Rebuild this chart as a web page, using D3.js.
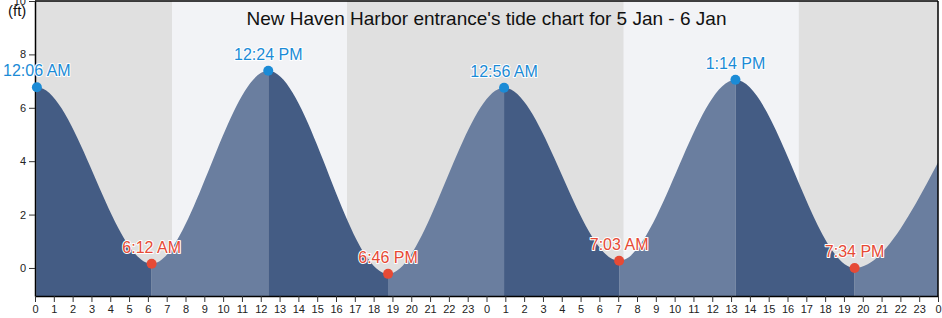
<!DOCTYPE html>
<html>
<head>
<meta charset="utf-8">
<script src="https://cdn.jsdelivr.net/npm/d3@7"></script>
<style>
body { margin: 0; background: #fff; }
text { font-family: "Liberation Sans", Arial, sans-serif; }
</style>
</head>
<body>
<script>
const width = 942;
const height = 318;

// high / low tides, hours counted from 0:00 on 5 Jan
const tideTimes = [0.1, 6.2, 12.4, 18.767, 24.933, 31.05, 37.233, 43.567];
const tideHeights = [6.77, 0.16, 7.39, -0.22, 6.75, 0.27, 7.05, 0.0];
const tideLabels = ["12:06 AM", "6:12 AM", "12:24 PM", "6:46 PM", "12:56 AM", "7:03 AM", "1:14 PM", "7:34 PM"];
const tideKind = ["high", "low", "high", "low", "high", "low", "high", "low"];

// curve height where it meets the chart edges
const edgeTimes = [0, 48];
const edgeHeights = [6.75, 3.95];

// daylight (sunrise, sunset) in hours
const sunrise = [7.283, 31.283];
const sunset = [16.583, 40.6];

const yTicks = [0, 2, 4, 6, 8, 10];
const xTicks = d3.range(0, 49);

const title = "New Haven Harbor entrance's tide chart for 5 Jan - 6 Jan";

const x = d3.scaleLinear().domain([0, 48]).range([35, 938]);
const y = d3.scaleLinear().domain([-1.05, 10]).range([296, 1]);

const svg = d3.select("body")
    .append("svg")
    .attr("width", width)
    .attr("height", height);

// night background, then day bands on top
svg.append("rect")
    .attr("x", x(0))
    .attr("y", y(10))
    .attr("width", x(48) - x(0))
    .attr("height", y(-1.05) - y(10))
    .attr("fill", "#e0e0e0");

svg.selectAll(".day")
    .data(sunrise)
    .enter()
    .append("rect")
    .attr("class", "day")
    .attr("x", d => x(d))
    .attr("y", y(10))
    .attr("width", (d, i) => x(sunset[i]) - x(d))
    .attr("height", y(-1.05) - y(10))
    .attr("fill", "#f2f3f6");

// tide curve
let points = tideTimes.map((t, i) => [t, tideHeights[i]]);
points.push([edgeTimes[0], edgeHeights[0]]);
points.push([edgeTimes[1], edgeHeights[1]]);
points.sort((a, b) => a[0] - b[0]);

const area = d3.area()
    .x(d => x(d[0]))
    .y0(y(-1.05))
    .y1(d => y(d[1]))
    .curve(d3.curveMonotoneX);

// rising parts lighter, falling parts darker
const bounds = [0].concat(tideTimes).concat([48]);
const segs = [];
for (let i = 0; i < bounds.length - 1; i++) {
    // segment ends at a high -> rising
    let rising = i < tideKind.length ? tideKind[i] === "high" : true;
    segs.push({from: bounds[i], to: bounds[i + 1], rising: rising});
}

const defs = svg.append("defs");
segs.forEach((s, i) => {
    defs.append("clipPath")
        .attr("id", "seg" + i)
        .append("rect")
        .attr("x", x(s.from))
        .attr("y", 0)
        .attr("width", x(s.to) - x(s.from))
        .attr("height", height);

    svg.append("path")
        .datum(points)
        .attr("d", area)
        .attr("clip-path", "url(#seg" + i + ")")
        .attr("fill", s.rising ? "#6a7e9f" : "#445c84");
});

// axes
const yAxis = svg.append("g")
    .attr("transform", "translate(" + x(0) + ",0)")
    .call(d3.axisLeft(y).tickValues(yTicks).tickSize(6).tickSizeOuter(0).tickPadding(3));

const xAxis = svg.append("g")
    .attr("transform", "translate(0," + y(-1.05) + ")")
    .call(d3.axisBottom(x).tickValues(xTicks).tickSize(6).tickSizeOuter(0)
        .tickFormat(d => d % 24));

[yAxis, xAxis].forEach(a => {
    a.select(".domain").attr("stroke", "#000").attr("stroke-width", 1.5);
    a.selectAll(".tick line").attr("stroke", "#333");
    a.selectAll(".tick text")
        .attr("fill", "#222")
        .style("font-size", "11px")
        .style("font-family", "'Liberation Sans', Arial, sans-serif");
});

// top and right frame
svg.append("line")
    .attr("x1", x(0)).attr("x2", x(48))
    .attr("y1", y(10)).attr("y2", y(10))
    .attr("stroke", "#000").attr("stroke-width", 1.5);
svg.append("line")
    .attr("x1", x(48)).attr("x2", x(48))
    .attr("y1", y(10)).attr("y2", y(-1.05))
    .attr("stroke", "#000").attr("stroke-width", 1.5);

svg.append("text")
    .attr("x", 8)
    .attr("y", 16)
    .style("font-size", "15px")
    .attr("fill", "#111")
    .text("(ft)");

svg.append("text")
    .attr("x", (x(0) + x(48)) / 2)
    .attr("y", 25)
    .attr("text-anchor", "middle")
    .style("font-size", "19px")
    .attr("fill", "#111")
    .text(title);

// dots and time labels
const colorOf = k => k === "high" ? "#1b8bd6" : "#e64a35";

svg.selectAll(".dot")
    .data(tideTimes)
    .enter()
    .append("circle")
    .attr("class", "dot")
    .attr("cx", d => x(d))
    .attr("cy", (d, i) => y(tideHeights[i]))
    .attr("r", 5)
    .attr("fill", (d, i) => colorOf(tideKind[i]));

svg.selectAll(".tlabel")
    .data(tideTimes)
    .enter()
    .append("text")
    .attr("class", "tlabel")
    .attr("x", d => x(d))
    .attr("y", (d, i) => y(tideHeights[i]) - 11)
    .attr("text-anchor", "middle")
    .style("font-size", "16px")
    .style("paint-order", "stroke")
    .attr("stroke", "#fff")
    .attr("stroke-width", 2)
    .attr("stroke-linejoin", "round")
    .attr("fill", (d, i) => colorOf(tideKind[i]))
    .text((d, i) => tideLabels[i]);
</script>
</body>
</html>
